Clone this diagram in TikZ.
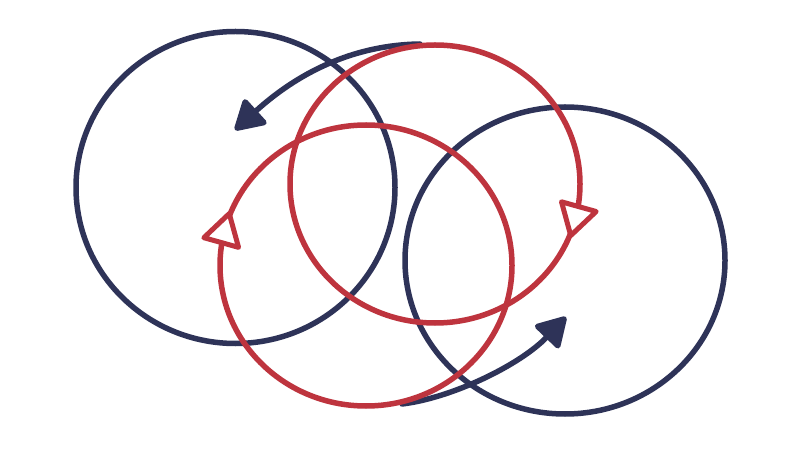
\documentclass[tikz,border=0pt]{standalone}
\usepackage{tikz}
\usetikzlibrary{arrows.meta,decorations.markings}
\definecolor{ringnavy}{RGB}{46,51,88}
\definecolor{ringred}{RGB}{190,52,62}
\tikzset{
  navyline/.style={draw=ringnavy, line width=5.5pt},
  redline/.style={draw=ringred, line width=5.5pt, postaction={decorate},
    decoration={markings, mark=at position #1 with {
      \draw [ringred, fill=white, line width=5pt, line join=round]
        (-16,0) -- (14,18) -- (14,-18) -- cycle;}}},
  navytip/.style={-{Triangle[length=32pt,width=36pt,round]}, line cap=round}}

\begin{document}
\begin{tikzpicture}[x=1pt,y=1pt]
\useasboundingbox [fill=white] (0,0) rectangle (800,450);
\coordinate (leftc) at (235.5,262.5);
\coordinate (rightc) at (565,189.5);
\coordinate (topc) at (435,266);
\coordinate (botc) at (366,184.5);
\coordinate (upstart) at (420,406);
\coordinate (uptip) at (235,320);
\coordinate (lowstart) at (402,46);
\coordinate (lowtip) at (566,133);
\draw [navyline] (leftc) ellipse [x radius=159.5, y radius=156];
\draw [navyline] (rightc) ellipse [x radius=160, y radius=153.5];
\draw [navyline, navytip] (upstart) .. controls (345,405) and (290,370) .. (uptip);
\draw [navyline, navytip] (lowstart) .. controls (452,52) and (520,85) .. (lowtip);
\draw [redline=0.959] (topc) ellipse [x radius=145, y radius=139];
\draw [redline=0.459] (botc) ellipse [x radius=146, y radius=140.5];
\end{tikzpicture}
\end{document}
